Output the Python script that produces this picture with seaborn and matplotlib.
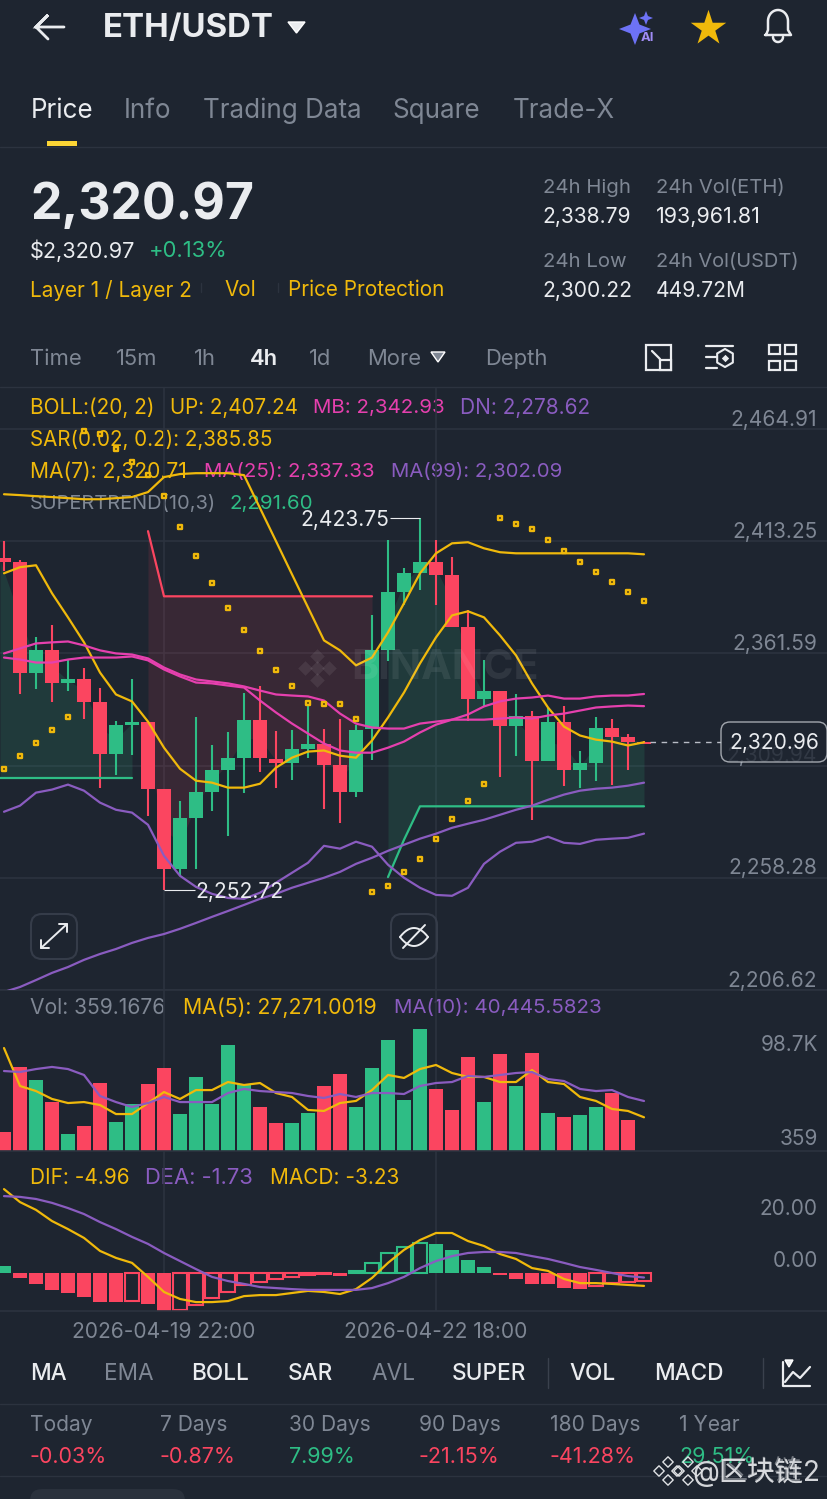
import numpy as np
import matplotlib
matplotlib.use("Agg")
import matplotlib.pyplot as plt
from matplotlib.patches import FancyBboxPatch, Polygon, Rectangle
import seaborn as sns

# ------------------------ Data ------------------------

price_ticks = [2464.91, 2413.25, 2361.59, 2309.94, 2258.28, 2206.62]
price_tick_labels = ["2,464.91", "2,413.25", "2,361.59", "2,309.94", "2,258.28", "2,206.62"]
date_labels = ["2026-04-19 22:00", "2026-04-22 18:00"]
date_candles = [10, 27]

opens = [2405.4, 2403.6, 2352.4, 2363.4, 2348.2, 2350.0, 2339.4, 2315.5, 2328.8, 2330.2, 2299.3,
         2262.4, 2285.9, 2297.9, 2308.1, 2313.6, 2331.1, 2313.2, 2311.3, 2317.8, 2320.1, 2310.0,
         2297.9, 2327.0, 2363.4, 2389.7, 2398.5, 2403.6, 2397.6, 2373.6, 2340.4, 2344.1, 2328.4,
         2333.0, 2312.2, 2329.8, 2308.1, 2311.3, 2327.4, 2323.3, 2321.0]
highs = [2413.3, 2404.5, 2369.0, 2374.9, 2358.4, 2355.1, 2345.9, 2330.7, 2350.0, 2330.2, 2299.3,
         2293.8, 2332.5, 2319.6, 2325.6, 2343.6, 2346.4, 2326.1, 2326.5, 2339.0, 2327.0, 2331.6,
         2328.8, 2379.1, 2413.7, 2400.8, 2423.75, 2413.7, 2405.9, 2381.4, 2358.8, 2344.5, 2343.1,
         2335.3, 2336.7, 2337.2, 2316.9, 2332.1, 2331.6, 2324.7, 2321.5]
lows = [2399.4, 2343.1, 2345.0, 2339.4, 2344.5, 2331.6, 2299.8, 2305.8, 2315.0, 2286.9, 2252.72,
        2259.2, 2262.4, 2289.2, 2277.6, 2297.5, 2307.2, 2299.8, 2303.5, 2313.6, 2290.1, 2283.6,
        2295.6, 2312.7, 2357.9, 2383.7, 2390.7, 2383.7, 2373.6, 2330.7, 2337.6, 2304.8, 2314.5,
        2285.0, 2312.2, 2300.7, 2299.8, 2303.0, 2301.2, 2308.1, 2320.1]
closes = [2403.6, 2352.4, 2363.4, 2348.2, 2350.0, 2339.4, 2315.5, 2328.8, 2330.2, 2299.3, 2262.4,
          2285.9, 2297.9, 2308.1, 2313.6, 2331.1, 2313.6, 2311.3, 2317.8, 2320.1, 2310.0, 2297.9,
          2326.5, 2363.4, 2389.7, 2398.5, 2403.6, 2397.6, 2373.6, 2340.4, 2344.1, 2328.4, 2333.0,
          2312.2, 2329.8, 2308.1, 2311.3, 2327.4, 2323.3, 2321.0, 2320.1]

boll_up = [2434.9, 2434.5, 2434.0, 2433.6, 2433.1, 2432.6, 2432.6, 2433.1, 2433.6, 2435.9, 2442.8,
           2444.2, 2444.6, 2444.6, 2444.6, 2443.7, 2428.5, 2413.3, 2398.0, 2382.8, 2367.6, 2363.0,
           2356.1, 2359.7, 2371.3, 2384.7, 2398.5, 2407.7, 2412.3, 2412.8, 2410.0, 2408.2, 2407.7,
           2407.7, 2407.7, 2407.7, 2407.7, 2407.7, 2407.7, 2407.7, 2407.24]
boll_mb = [2359.7, 2358.8, 2357.4, 2357.4, 2358.8, 2359.7, 2359.7, 2359.7, 2360.2, 2358.4, 2354.2,
           2351.0, 2348.2, 2347.8, 2346.8, 2345.9, 2339.9, 2334.4, 2329.3, 2324.7, 2320.1, 2316.9,
           2315.9, 2315.9, 2318.2, 2321.0, 2325.2, 2328.8, 2331.1, 2333.5, 2337.2, 2339.5, 2340.8,
           2341.3, 2342.2, 2340.8, 2340.8, 2341.8, 2342.2, 2342.2, 2342.93]
boll_dn = [2288.7, 2291.5, 2297.5, 2298.9, 2301.2, 2298.4, 2292.9, 2289.6, 2288.3, 2282.7, 2268.4,
           2259.2, 2254.1, 2250.9, 2249.0, 2248.6, 2251.4, 2256.0, 2260.6, 2265.2, 2273.0, 2271.7,
           2274.9, 2272.6, 2264.3, 2258.3, 2253.7, 2250.4, 2250.0, 2253.7, 2264.7, 2270.3, 2274.4,
           2274.9, 2277.2, 2274.4, 2273.9, 2275.8, 2276.3, 2276.7, 2278.62]
ma7 = [2398.5, 2401.3, 2402.2, 2389.3, 2378.2, 2366.7, 2352.8, 2342.7, 2339.5, 2330.2, 2318.2,
       2308.5, 2303.0, 2302.1, 2299.8, 2299.8, 2301.6, 2309.0, 2313.6, 2316.4, 2316.9, 2314.5,
       2313.6, 2321.5, 2332.1, 2343.6, 2357.0, 2369.0, 2379.1, 2381.0, 2378.2, 2369.9, 2360.7,
       2347.8, 2336.7, 2327.9, 2323.8, 2321.9, 2321.0, 2319.2, 2320.71]
ma25 = [2361.6, 2363.9, 2366.2, 2366.7, 2367.1, 2365.3, 2363.0, 2361.6, 2361.1, 2359.3, 2355.1,
        2351.9, 2349.6, 2348.7, 2347.8, 2346.4, 2344.5, 2342.7, 2342.2, 2341.8, 2339.9, 2333.9,
        2329.3, 2327.5, 2327.0, 2327.0, 2329.3, 2330.2, 2331.1, 2331.1, 2331.1, 2331.6, 2332.1,
        2331.6, 2333.0, 2333.9, 2335.3, 2336.7, 2337.2, 2337.6, 2337.33]
ma99 = [2205.7, 2208.0, 2211.2, 2214.5, 2217.2, 2220.5, 2223.2, 2225.5, 2228.3, 2230.6, 2232.4,
        2234.8, 2237.5, 2240.3, 2243.0, 2245.8, 2248.6, 2250.9, 2253.7, 2256.0, 2258.3, 2261.0,
        2264.7, 2267.5, 2270.7, 2273.5, 2276.3, 2278.6, 2281.3, 2283.2, 2285.0, 2287.3, 2289.6,
        2291.5, 2294.2, 2296.6, 2298.4, 2299.3, 2299.8, 2300.7, 2302.09]
sar = [2308.5, 2314.5, 2320.5, 2326.5, 2332.1, 2464.0, 2462.6, 2455.7, 2449.7, 2443.7, 2434.0,
       2419.7, 2406.3, 2393.9, 2382.4, 2372.2, 2362.5, 2353.8, 2346.4, 2339.0, 2338.5, 2338.5,
       2331.6, 2251.8, 2254.6, 2261.0, 2267.0, 2276.3, 2285.5, 2293.8, 2301.6, 2423.9, 2421.1,
       2418.8, 2413.7, 2408.6, 2403.6, 2399.0, 2394.3, 2389.7, 2385.85]

# supertrend has three runs: up to candle 8, candles 9-23 (bearish), candles 24-40
supertrend_a = [2304.4] * 9
supertrend_b = [2417.9] + [2387.9] * 14
supertrend_c = [2258.6, 2275.8] + [2291.2] * 15

volume = [15400, 68000, 57400, 39600, 13750, 20200, 55000, 23500, 38000, 54200, 67100,
          29900, 59900, 38000, 85800, 54200, 35600, 22650, 22650, 30700, 52600, 62300,
          35600, 67100, 89800, 41300, 98700, 50200, 33200, 76000, 39600, 78500, 52600,
          79300, 30700, 27500, 29100, 35600, 46900, 25100, 359]
vol_ma5 = [83300, 52600, 48500, 42100, 38800, 39600, 37200, 29900, 29900, 38800, 47700,
           42100, 49300, 49300, 55800, 53400, 55000, 46900, 43700, 33200, 32400, 38800,
           40500, 49300, 61500, 59100, 66300, 69600, 63100, 59900, 59900, 55800, 55800,
           65500, 55800, 54200, 43700, 40500, 34000, 32400, 27271]
vol_ma10 = [64700, 63900, 66300, 68000, 66300, 61500, 44500, 39600, 35600, 38800, 43700,
            39600, 39600, 39600, 46900, 50200, 48500, 47700, 46900, 44500, 42900, 46100,
            43700, 46900, 46900, 46100, 52600, 55000, 55800, 60700, 59900, 61500, 63100,
            63900, 58200, 56600, 50200, 48500, 49300, 43700, 40446]

macd_hist = [2.7, -1.9, -4.2, -6.5, -7.7, -9.2, -11.2, -11.2, -10.8, -11.9, -14.6,
             -14.2, -12.3, -9.6, -7.3, -4.6, -3.5, -2.3, -1.5, -0.8, -0.5, -1.0,
             0.9, 3.9, 7.7, 10.0, 11.6, 11.2, 8.9, 5.0, 2.3, -0.8, -2.3,
             -4.2, -4.2, -5.8, -6.2, -5.0, -3.9, -3.6, -3.23]
dif = [32.3, 27.3, 24.3, 20.0, 16.9, 13.5, 8.5, 5.8, 3.9, -1.5, -7.3,
       -10.0, -11.2, -11.2, -10.8, -8.9, -8.5, -8.5, -7.7, -6.9, -7.3, -8.1,
       -6.2, -1.9, 3.9, 8.9, 12.7, 15.4, 15.4, 12.3, 10.4, 7.3, 5.4,
       1.9, 0.8, -2.3, -3.9, -3.9, -4.2, -4.6, -4.96]
dea = [29.6, 29.3, 28.5, 27.0, 25.0, 22.7, 19.6, 16.9, 13.9, 11.2, 7.7,
       4.6, 1.5, -1.5, -3.1, -4.2, -5.4, -5.8, -6.2, -6.5, -6.5, -6.5,
       -6.5, -5.8, -3.9, -1.5, 1.9, 4.6, 6.5, 7.7, 8.1, 8.1, 7.7,
       6.5, 5.4, 3.9, 2.3, 1.2, 0.0, -1.2, -1.73]

tab_names = ["Price", "Info", "Trading Data", "Square", "Trade-X"]
tab_x = [31, 124, 203, 392, 513]
interval_names = ["Time", "15m", "1h", "4h", "1d", "More", "Depth"]
interval_x = [30, 116, 194, 250, 309, 367, 485]
indicator_names = ["MA", "EMA", "BOLL", "SAR", "AVL", "SUPER", "VOL", "MACD"]
indicator_x = [30, 104, 191, 288, 371, 452, 569, 654]
indicator_off = ["EMA", "AVL"]
period_names = ["Today", "7 Days", "30 Days", "90 Days", "180 Days", "1 Year"]
period_changes = [-0.03, -0.87, 7.99, -21.15, -41.28, 29.51]
period_x = [30, 160, 289, 419, 550, 679]

# ------------------------ Setup ------------------------

W, H = 828, 1499
BG = "#1e2530"
GRID = "#2c333f"
GREEN = "#2ebd85"
RED = "#fb4560"
YELLOW = "#f0b90b"
PINK = "#e540ae"
PURPLE = "#8a5cc0"
GRAY = "#7f8794"
LIGHT = "#eaecef"

sns.set_theme(style="dark", rc={"axes.facecolor": "none", "figure.facecolor": BG})
plt.rcParams["font.family"] = ["Inter", "Noto Sans CJK SC", "DejaVu Sans"]

fig = plt.figure(figsize=(W / 100, H / 100), dpi=100, facecolor=BG)


def full_layer(z):
    ax = fig.add_axes([0, 0, 1, 1], zorder=z, facecolor="none")
    ax.set_xlim(0, W)
    ax.set_ylim(H, 0)
    ax.axis("off")
    return ax


def chart_axes(top_px, bottom_px):
    ax = fig.add_axes([0, 1 - bottom_px / H, 1, (bottom_px - top_px) / H], zorder=2, facecolor="none")
    return ax


ui = full_layer(1)
over = full_layer(5)
main = chart_axes(387, 990)
vol_ax = chart_axes(990, 1151)
macd_ax = chart_axes(1151, 1311)


def label(ax, x, y, s, color=LIGHT, size=21, weight="normal", ha="left", **kw):
    # +2: Inter sits a little high when centred
    return ax.text(x, y + 2, s, color=color, fontsize=size * 0.72, fontweight=weight, ha=ha, va="center", **kw)


idx = np.arange(len(closes))
o, h, l, c = map(np.array, (opens, highs, lows, closes))
up = c >= o
candle_colors = np.where(up, GREEN, RED)

# ------------------ Main chart: supertrend zones, bands, candles ------------------
mid = (o + c) / 2
zones = [(0, supertrend_a, GREEN, 0.14), (9, supertrend_b, RED, 0.12), (24, supertrend_c, GREEN, 0.14)]
for start, values, col, alpha in zones:
    xs = idx[start:start + len(values)]
    edge = mid[xs]
    plot_x = xs.astype(float)
    if start == 0:
        plot_x[0] = -0.25  # first run comes in from the left edge
    main.fill_between(plot_x, values, edge, color=col, alpha=alpha, lw=0, zorder=1)
    sns.lineplot(x=plot_x, y=values, color=col, lw=1.6, ax=main, errorbar=None, zorder=4)

main.vlines(idx, l, h, colors=candle_colors, lw=1.5, zorder=2)
main.bar(idx, np.maximum(np.abs(c - o), 0.9), bottom=np.minimum(o, c), width=0.875, color=candle_colors, lw=0, zorder=3)

for values, col in [(boll_up, YELLOW), (ma7, YELLOW), (boll_mb, PINK), (ma25, PINK),
                    (boll_dn, PURPLE), (ma99, PURPLE)]:
    sns.lineplot(x=idx, y=values, color=col, lw=1.6, ax=main, errorbar=None, zorder=5)

sns.scatterplot(x=idx, y=sar, marker="s", s=6, color="#3a2f10", edgecolor=YELLOW, linewidth=1.7, ax=main, zorder=6, legend=False)

main.set_ylim(2206.62, 2484.28)
main.set_yticks(price_ticks)
label_tf = main.get_yaxis_transform()
for tick, text in zip(price_ticks, price_tick_labels):
    main.annotate(text, xy=(0.987, tick), xycoords=label_tf, xytext=(0, 6.8), textcoords="offset points",
                  ha="right", va="center", color=GRAY, fontsize=20.9 * 0.72)

# extreme markers with their leader lines
main.hlines(2423.75, 24.1, 26, colors=LIGHT, lw=0.8, zorder=8)
main.hlines(2252.72, 10, 11.95, colors=LIGHT, lw=0.8, zorder=8)
main.annotate("2,423.75", xy=(24.1, 2423.75), xytext=(0, -1.2), textcoords="offset points", ha="right", va="center",
              color=LIGHT, fontsize=21 * 0.72, zorder=8)
main.annotate("2,252.72", xy=(11.95, 2252.72), xytext=(0, -1.2), textcoords="offset points", ha="left", va="center",
              color=LIGHT, fontsize=21 * 0.72, zorder=8)

# last price dashed line towards the tag
main.hlines(closes[-1] + 0.9, 40.35, 44.8, colors="#b8bdc6", lw=1, linestyles=(0, (4, 4)), zorder=7)

# ------------------ Volume ------------------
sns.barplot(x=idx, y=volume, hue=candle_colors, palette={GREEN: GREEN, RED: RED}, native_scale=True, dodge=False,
            width=0.875, legend=False, errorbar=None, ax=vol_ax, linewidth=0, saturation=1)
sns.lineplot(x=idx, y=vol_ma5, color=YELLOW, lw=1.6, ax=vol_ax, errorbar=None)
sns.lineplot(x=idx, y=vol_ma10, color=PURPLE, lw=1.6, ax=vol_ax, errorbar=None)
vol_ax.set_ylim(0, 130249)
vol_ax.set_yticks([])

# ------------------ MACD ------------------
hist = np.array(macd_hist)
hist_colors = np.where(hist >= 0, GREEN, RED)
rising = np.r_[False, hist[1:] > hist[:-1]]
macd_ax.bar(idx[~rising], hist[~rising], width=0.875, color=hist_colors[~rising], lw=0)
macd_ax.bar(idx[rising], hist[rising], width=0.875, facecolor="none", edgecolor=hist_colors[rising], lw=1.5)
sns.lineplot(x=idx, y=dif, color=YELLOW, lw=1.6, ax=macd_ax, errorbar=None)
sns.lineplot(x=idx, y=dea, color=PURPLE, lw=1.6, ax=macd_ax, errorbar=None)
macd_ax.set_ylim(-14.63, 46.97)
macd_ax.set_yticks([])

# shared axes styling
for ax in (main, vol_ax, macd_ax):
    ax.set_xlim(-0.25, 51.5)
    ax.set_xticks(date_candles)
    ax.set_xticklabels([])
    ax.set_xlabel("")
    ax.set_ylabel("")
    ax.set_yticklabels([])
    ax.tick_params(length=0)
    ax.grid(True, color=GRID, lw=1.2)
    ax.set_axisbelow(True)
    for side in ("top", "left", "right"):
        ax.spines[side].set_visible(False)
    ax.spines["bottom"].set_color(GRID)
    ax.spines["bottom"].set_linewidth(1.2)
macd_ax.set_xticklabels(date_labels, color=GRAY, fontsize=20.9 * 0.72)
macd_ax.tick_params(axis="x", pad=8)

# ------------------ Indicator legends ------------------
for x, y, s, col, size in [
    (30, 406, "BOLL:(20, 2)", YELLOW, 20.8), (170, 406, "UP: 2,407.24", YELLOW, 20.6), (313, 406, "MB: 2,342.93", PINK, 20.5),
    (460, 406, "DN: 2,278.62", PURPLE, 20.8), (30, 438, "SAR(0.02, 0.2): 2,385.85", YELLOW, 20.6),
    (30, 470, "MA(7): 2,320.71", YELLOW, 21), (204, 470, "MA(25): 2,337.33", PINK, 20.5), (391, 470, "MA(99): 2,302.09", PURPLE, 20.3),
    (30, 502, "SUPERTREND(10,3)", GRAY, 20), (230, 502, "2,291.60", GREEN, 20.5),
    (30, 1006, "Vol: 359.1676", GRAY, 21), (183, 1006, "MA(5): 27,271.0019", YELLOW, 21.3), (394, 1006, "MA(10): 40,445.5823", PURPLE, 20.5),
    (30, 1176, "DIF: -4.96", YELLOW, 20.7), (145, 1176, "DEA: -1.73", PURPLE, 22), (270, 1176, "MACD: -3.23", YELLOW, 20.8),
]:
    label(ui, x, y, s, col, size)
for y, s in [(1043, "98.7K"), (1137, "359"), (1207, "20.00"), (1259, "0.00")]:
    label(ui, 818, y, s, GRAY, 20.8, ha="right")

# price tag
over.add_patch(FancyBboxPatch((721, 722), 106, 40, boxstyle="round,pad=0,rounding_size=9", fc=BG, ec="#c4c8ce", lw=1, alpha=0.8))
label(over, 774, 741, "2,320.96", LIGHT, 21, ha="center")

# chart watermark
for dx, dy in [(0, -12), (-12, 0), (12, 0), (0, 12), (0, 0)]:
    over.scatter(317 + dx, 668 + dy, marker="D", s=55, color="#ffffff", alpha=0.08, lw=0)
label(over, 351, 666, "BINANCE", "#ffffff", 41, "bold", alpha=0.08)

# ------------------ Header ------------------
ui.plot([64, 36, 48, 36, 48], [27, 27, 15, 27, 39], color=LIGHT, lw=2, solid_joinstyle="miter")
label(ui, 103, 26, "ETH/USDT", LIGHT, 33, "bold")
ui.add_patch(Polygon([(288, 22), (305, 22), (296.5, 33)], fc=LIGHT))


def sparkle(cx, cy, r, col):
    pts = [(cx, cy - r), (cx + r * 0.28, cy - r * 0.28), (cx + r, cy), (cx + r * 0.28, cy + r * 0.28),
           (cx, cy + r), (cx - r * 0.28, cy + r * 0.28), (cx - r, cy), (cx - r * 0.28, cy - r * 0.28)]
    ui.add_patch(Polygon(pts, fc=col, lw=0))


sparkle(635, 29, 16, "#6d72f6")
sparkle(646, 18, 7, "#6d72f6")
label(ui, 647, 36, "AI", "#a08cf5", 13, "bold", ha="center")
ui.scatter(708, 28, marker="*", s=720, color=YELLOW, lw=0)
t_bell = np.linspace(np.pi, 0, 30)
bell_x = np.r_[766, 768, 778 + 10 * np.cos(t_bell), 788, 791, 765]
bell_y = np.r_[35, 30, 21 + 11 * -np.sin(t_bell) * 1.0, 30, 35, 35]
ui.plot(bell_x, bell_y, color=LIGHT, lw=1.8)
t_arc = np.linspace(0, np.pi, 20)
ui.plot(778 + 5 * np.cos(t_arc), 37 + 5 * np.sin(t_arc), color=LIGHT, lw=1.8)

for name, x in zip(tab_names, tab_x):
    label(ui, x, 109, name, LIGHT if name == "Price" else GRAY, 26)
ui.add_patch(Rectangle((47, 141), 30, 5, fc="#fcd535", lw=0))
ui.plot([0, W], [146.5, 146.5], color=GRID, lw=1)

label(ui, 30, 203, "2,320.97", LIGHT, 50, "bold")
label(ui, 30, 249, "$2,320.97", LIGHT, 21.7)
label(ui, 149, 249, "+0.13%", GREEN, 22)
label(ui, 30, 288, "Layer 1 / Layer 2", YELLOW, 20.7)
label(ui, 224, 288, "Vol", YELLOW, 20.7)
label(ui, 288, 288, "Price Protection", YELLOW, 20.7)
ui.plot([201, 201], [283, 292], color=GRID, lw=1)
ui.plot([278, 278], [283, 292], color=GRID, lw=1)
for x, y, s, col, size in [(543, 186, "24h High", GRAY, 20.3), (542, 215, "2,338.79", LIGHT, 21), (656, 186, "24h Vol(ETH)", GRAY, 20.2),
                           (656, 215, "193,961.81", LIGHT, 21.5), (543, 260, "24h Low", GRAY, 20.3), (542, 289, "2,300.22", LIGHT, 21),
                           (656, 260, "24h Vol(USDT)", GRAY, 20), (656, 289, "449.72M", LIGHT, 21)]:
    label(ui, x, y, s, col, size)

for name, x in zip(interval_names, interval_x):
    label(ui, x, 357, name, LIGHT if name == "4h" else GRAY, 22, "semibold" if name == "4h" else "normal")
ui.add_patch(Polygon([(431, 352), (445, 352), (438, 362)], fc=GRAY))

# toolbar icons
ui.add_patch(Rectangle((646, 345), 25, 25, fc="none", ec=LIGHT, lw=1.6))
ui.add_patch(Rectangle((660, 360), 11, 10, fc=BG, ec=LIGHT, lw=1.6))
ui.plot([652, 660], [351, 359], color=LIGHT, lw=1.6)
ui.plot([706, 733], [345.5, 345.5], color=LIGHT, lw=1.6)
ui.plot([706, 717], [357, 357], color=LIGHT, lw=1.6)
ui.plot([706, 717], [368, 368], color=LIGHT, lw=1.6)
ui.scatter(725, 358, marker="h", s=170, facecolor="none", edgecolor=LIGHT, lw=1.5)
ui.scatter(725, 358, marker="D", s=14, color=LIGHT, lw=0)
for x in (769, 785):
    for y in (345, 361):
        ui.add_patch(Rectangle((x, y), 11, 9, fc="none", ec=LIGHT, lw=1.6))

ui.plot([0, W], [386.5, 386.5], color=GRID, lw=1)

# buttons floating on the chart
for x in (31, 391):
    over.add_patch(FancyBboxPatch((x, 914), 46, 45, boxstyle="round,pad=0,rounding_size=11", fc="none", ec="#353c49", lw=1.5))
over.plot([41, 67], [948, 924], color=LIGHT, lw=1.4)
over.plot([41, 41, 49], [940, 948, 948], color=LIGHT, lw=1.4)
over.plot([59, 67, 67], [924, 924, 932], color=LIGHT, lw=1.4)
eye_dx = np.linspace(-14, 14, 25)
over.plot(414 + eye_dx, 937 - 9 * (1 - (eye_dx / 14) ** 2), color=LIGHT, lw=1.4)
over.plot(414 + eye_dx, 937 + 9 * (1 - (eye_dx / 14) ** 2), color=LIGHT, lw=1.4)
over.plot([403, 425], [948, 925], color=LIGHT, lw=1.4)

# ------------------ Bottom rows ------------------
for name, x in zip(indicator_names, indicator_x):
    off = name in indicator_off
    label(ui, x, 1372, name, GRAY if off else LIGHT, 22.6, "normal" if off else "medium")
ui.plot([548.5, 548.5], [1358, 1388], color="#3a414d", lw=1)
ui.plot([763.5, 763.5], [1358, 1388], color="#3a414d", lw=1)
ui.plot([783, 783, 810], [1362, 1386, 1386], color=LIGHT, lw=1.6)
ui.plot([785, 793, 800, 810], [1382, 1372, 1378, 1367], color=LIGHT, lw=1.6)
ui.add_patch(Polygon([(785, 1360), (793, 1360), (789, 1367)], fc=LIGHT))
ui.plot([0, W], [1403.5, 1403.5], color=GRID, lw=1)

for name, change, x in zip(period_names, period_changes, period_x):
    label(ui, x, 1423, name, GRAY, 21)
    label(ui, x, 1455, f"{change:.2f}%", GREEN if change >= 0 else RED, 21.5)
ui.plot([0, W], [1475.5, 1475.5], color=GRID, lw=1)
ui.add_patch(FancyBboxPatch((30, 1489), 155, 30, boxstyle="round,pad=0,rounding_size=12", fc="#2a313c", lw=0))

# site watermark over the bottom right corner
for cx in (668, 688):
    for dx, dy in [(0, -9), (-9, 0), (9, 0), (0, 9)]:
        over.scatter(cx + dx, 1471 + dy, marker="D", s=28, facecolor="none", edgecolor="#dfe1e4", lw=1)
label(over, 692, 1470, "@区块链2", "#dfe1e4", 28, alpha=0.95)
label(over, 720, 1470, "区块链", "#dfe1e4", 27, alpha=0.45)

fig.savefig("out.png", dpi=100, facecolor=BG)
